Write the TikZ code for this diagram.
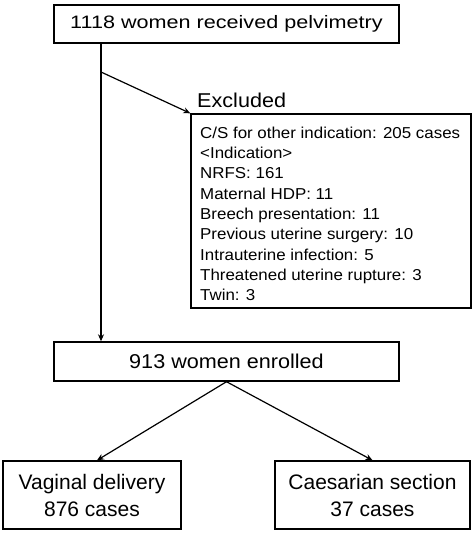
\documentclass[tikz,border=0pt]{standalone}
\usepackage{fontspec}
\setmainfont{Liberation Sans}
\newfontfamily\fTop[FakeStretch=1.2]{Liberation Sans}
\newfontfamily\fMid[FakeStretch=1.08]{Liberation Sans}
\newfontfamily\fBox[FakeStretch=1.07]{Liberation Sans}
\usetikzlibrary{arrows.meta}
\begin{document}
\begin{tikzpicture}[x=1pt,y=-1pt,
  box/.style={draw=black,line width=1.4pt,inner sep=0pt,anchor=center},
  conn/.style={line width=1.2pt,-{Stealth[length=7pt,width=6pt]}},
  plain/.style={line width=1.2pt}]
\useasboundingbox (0,0) rectangle (474,533);
\node[box,minimum width=345pt,minimum height=38pt,font={\fTop\fontsize{18}{20}\selectfont}] (top) at (226.5,24)
  {1118 women received pelvimetry};
\node[box,minimum width=345pt,minimum height=39pt,font={\fMid\fontsize{20}{22}\selectfont}] (enr) at (226.5,361.5)
  {913 women enrolled};
\node[box,minimum width=280pt,minimum height=194pt] (ex) at (331,211) {};
\node[anchor=base west,inner sep=0pt,font={\fMid\fontsize{20}{22}\selectfont}] (lab) at (197,107.5)
  {Excluded};
\node[anchor=base west,inner sep=0pt,align=left,font={\fBox\fontsize{15.8}{20.3}\selectfont}] (list) at (200,300.7)
  {C/S for other indication: 205 cases\\
   <Indication>\\
   NRFS: 161\\
   Maternal HDP: 11\\
   Breech presentation: 11\\
   Previous uterine surgery: 10\\
   Intrauterine infection: 5\\
   Threatened uterine rupture: 3\\
   Twin: 3};
\node[box,minimum width=178pt,minimum height=68pt,align=center,font={\fontsize{21}{27}\selectfont}] (vag) at (92,495)
  {Vaginal delivery\\876 cases};
\node[box,minimum width=195pt,minimum height=68pt,align=center,font={\fontsize{21}{27}\selectfont}] (ces) at (372.5,495)
  {Caesarian section\\37 cases};
\coordinate (b) at (101,72);
\draw[plain] (top.south -| b) -- (b);
\draw[conn] (b) -- (b |- enr.north);
\draw[conn] (b) -- (ex.north west);
\draw[conn] (enr.south) -- ([xshift=5pt]vag.north);
\draw[conn] (enr.south) -- (ces.north);
\end{tikzpicture}
\end{document}
